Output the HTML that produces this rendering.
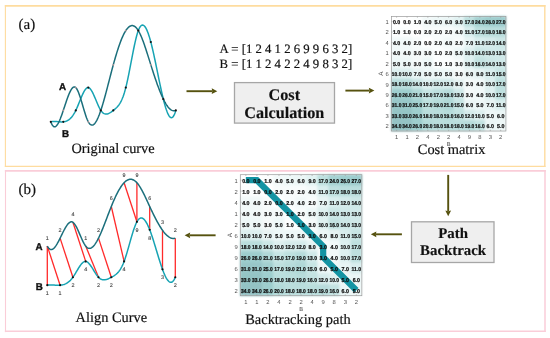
<!DOCTYPE html>
<html><head><meta charset="utf-8"><style>
html,body{margin:0;padding:0;background:#fff;}
body{width:550px;height:338px;overflow:hidden;}
svg{display:block;} text{text-rendering:geometricPrecision;}
</style></head><body>
<svg width="550" height="338" viewBox="0 0 550 338">
<defs><filter id="blura" x="-5%" y="-5%" width="110%" height="110%"><feGaussianBlur stdDeviation="0.9"/></filter><filter id="blurb" x="-5%" y="-5%" width="110%" height="110%"><feGaussianBlur stdDeviation="0.9"/></filter></defs>
<path d="M4.85,5.9H545.5" stroke="#fedc9f" stroke-width="1.6"/><path d="M4.85,166.35H545.5" stroke="#fedc9f" stroke-width="1.4"/><path d="M5.4,5.1V167.05" stroke="#fedc9f" stroke-width="1.1"/><path d="M544.8,5.1V167.05" stroke="#fedc9f" stroke-width="1.4"/>
<path d="M4.85,170.9H545.8" stroke="#facdd8" stroke-width="1.6"/><path d="M4.85,331.3H545.8" stroke="#facdd8" stroke-width="1.6"/><path d="M5.5,170.1V332.1" stroke="#facdd8" stroke-width="1.1"/><path d="M545.0,170.1V332.1" stroke="#facdd8" stroke-width="1.5"/>
<g font-family="Liberation Serif, serif" fill="#111" stroke="#111" stroke-width="0.18">
<text x="18.5" y="28.8" font-size="15">(a)</text>
<text x="18.5" y="193.8" font-size="15">(b)</text>
<text x="71.4" y="152.7" font-size="14.35">Original curve</text>
<text x="417.8" y="154.1" font-size="14.4">Cost matrix</text>
<text x="245.2" y="323.6" font-size="14.45">Backtracking path</text>
<text x="75.6" y="321.8" font-size="14.4">Align Curve</text>
<text x="219.6" y="52.8" font-size="12.75">A = [1 2 4 1 2 6 9 9 6 3 2]</text>
<text x="219.6" y="67.6" font-size="12.75">B = [1 1 2 4 2 2 4 9 8 3 2]</text>
</g>
<rect x="234.5" y="82.6" width="100" height="40.5" fill="#efefef" stroke="#a6a6a6" stroke-width="1.3"/>
<rect x="411.5" y="221.8" width="82.5" height="40.7" fill="#efefef" stroke="#a6a6a6" stroke-width="1.3"/>
<g font-family="Liberation Serif, serif" font-weight="bold" fill="#111" stroke="#111" stroke-width="0.15" text-anchor="middle">
<text x="284.3" y="99.5" font-size="16.2">Cost</text>
<text x="284.3" y="118" font-size="16.2">Calculation</text>
<text x="453.1" y="238.4" font-size="14.85">Path</text>
<text x="453.1" y="255.3" font-size="14.85">Backtrack</text>
</g>
<line x1="186.5" y1="91.2" x2="212.20" y2="91.20" stroke="#56520f" stroke-width="1.9"/><polygon points="217.30,91.20 211.70,94.10 212.26,91.20 211.70,88.30" fill="#56520f"/>
<line x1="345.4" y1="90.6" x2="369.30" y2="90.60" stroke="#56520f" stroke-width="1.9"/><polygon points="374.40,90.60 368.80,93.50 369.36,90.60 368.80,87.70" fill="#56520f"/>
<line x1="448.2" y1="174.9" x2="448.20" y2="211.10" stroke="#56520f" stroke-width="1.9"/><polygon points="448.20,216.20 445.30,210.60 448.20,211.16 451.10,210.60" fill="#56520f"/>
<line x1="401.9" y1="234.3" x2="375.90" y2="234.30" stroke="#56520f" stroke-width="1.9"/><polygon points="370.80,234.30 376.40,231.40 375.84,234.30 376.40,237.20" fill="#56520f"/>
<line x1="215.6" y1="235.3" x2="189.70" y2="235.30" stroke="#56520f" stroke-width="1.9"/><polygon points="184.60,235.30 190.20,232.40 189.64,235.30 190.20,238.20" fill="#56520f"/>
<path d="M50.80,121.80 L51.43,121.67 L52.06,121.58 L52.68,121.51 L53.31,121.47 L53.94,121.46 L54.57,121.46 L55.20,121.48 L55.83,121.52 L56.45,121.56 L57.08,121.61 L57.71,121.67 L58.34,121.72 L58.97,121.78 L59.59,121.82 L60.22,121.86 L60.85,121.89 L61.48,121.90 L62.11,121.88 L62.73,121.85 L63.36,121.79 L63.99,121.70 L64.62,121.58 L65.25,121.43 L65.88,121.23 L66.50,121.00 L67.13,120.71 L67.76,120.38 L68.39,120.00 L69.02,119.56 L69.64,119.06 L70.27,118.50 L70.90,117.88 L71.53,117.18 L72.16,116.42 L72.78,115.58 L73.41,114.66 L74.04,113.66 L74.67,112.58 L75.30,111.40 L75.93,110.14 L76.55,108.79 L77.18,107.36 L77.81,105.87 L78.44,104.35 L79.07,102.79 L79.69,101.23 L80.32,99.68 L80.95,98.15 L81.58,96.66 L82.21,95.23 L82.84,93.87 L83.46,92.60 L84.09,91.43 L84.72,90.39 L85.35,89.49 L85.98,88.74 L86.60,88.17 L87.23,87.78 L87.86,87.60 L88.49,87.64 L89.12,87.90 L89.74,88.37 L90.37,89.03 L91.00,89.85 L91.63,90.83 L92.26,91.95 L92.89,93.17 L93.51,94.49 L94.14,95.88 L94.77,97.33 L95.40,98.82 L96.03,100.33 L96.65,101.83 L97.28,103.32 L97.91,104.77 L98.54,106.16 L99.17,107.47 L99.79,108.69 L100.42,109.80 L101.05,110.77 L101.68,111.60 L102.31,112.30 L102.94,112.88 L103.56,113.33 L104.19,113.67 L104.82,113.90 L105.45,114.04 L106.08,114.08 L106.70,114.04 L107.33,113.93 L107.96,113.74 L108.59,113.50 L109.22,113.20 L109.85,112.85 L110.47,112.46 L111.10,112.04 L111.73,111.59 L112.36,111.12 L112.99,110.64 L113.61,110.16 L114.24,109.67 L114.87,109.16 L115.50,108.63 L116.13,108.07 L116.75,107.46 L117.38,106.79 L118.01,106.06 L118.64,105.25 L119.27,104.36 L119.90,103.37 L120.52,102.28 L121.15,101.07 L121.78,99.74 L122.41,98.27 L123.04,96.66 L123.66,94.89 L124.29,92.96 L124.92,90.86 L125.55,88.57 L126.18,86.09 L126.81,83.42 L127.43,80.60 L128.06,77.63 L128.69,74.56 L129.32,71.40 L129.95,68.17 L130.57,64.90 L131.20,61.61 L131.83,58.33 L132.46,55.08 L133.09,51.88 L133.71,48.77 L134.34,45.75 L134.97,42.86 L135.60,40.12 L136.23,37.55 L136.86,35.18 L137.48,33.03 L138.11,31.12 L138.74,29.48 L139.37,28.11 L140.00,27.01 L140.62,26.16 L141.25,25.55 L141.88,25.20 L142.51,25.07 L143.14,25.17 L143.76,25.50 L144.39,26.03 L145.02,26.77 L145.65,27.71 L146.28,28.85 L146.91,30.16 L147.53,31.66 L148.16,33.32 L148.79,35.15 L149.42,37.13 L150.05,39.26 L150.67,41.53 L151.30,43.93 L151.93,46.46 L152.56,49.10 L153.19,51.84 L153.82,54.66 L154.44,57.55 L155.07,60.51 L155.70,63.51 L156.33,66.55 L156.96,69.61 L157.58,72.68 L158.21,75.75 L158.84,78.80 L159.47,81.83 L160.10,84.82 L160.72,87.76 L161.35,90.63 L161.98,93.43 L162.61,96.14 L163.24,98.75 L163.87,101.24 L164.49,103.60 L165.12,105.83 L165.75,107.91 L166.38,109.82 L167.01,111.56 L167.63,113.11 L168.26,114.45 L168.89,115.59 L169.52,116.49 L170.15,117.16 L170.77,117.58 L171.40,117.74 L172.03,117.61 L172.66,117.21 L173.29,116.50 L173.92,115.47 L174.54,114.12 L175.17,112.44 L175.80,110.40" fill="none" stroke="#16a3b3" stroke-width="1.5"/>
<path d="M50.80,121.80 L51.43,123.39 L52.06,124.65 L52.68,125.61 L53.31,126.28 L53.94,126.68 L54.57,126.82 L55.20,126.71 L55.83,126.38 L56.45,125.83 L57.08,125.09 L57.71,124.16 L58.34,123.07 L58.97,121.83 L59.59,120.45 L60.22,118.95 L60.85,117.35 L61.48,115.66 L62.11,113.90 L62.73,112.08 L63.36,110.21 L63.99,108.32 L64.62,106.42 L65.25,104.52 L65.88,102.64 L66.50,100.79 L67.13,98.99 L67.76,97.26 L68.39,95.61 L69.02,94.06 L69.64,92.61 L70.27,91.30 L70.90,90.13 L71.53,89.11 L72.16,88.27 L72.78,87.62 L73.41,87.17 L74.04,86.94 L74.67,86.95 L75.30,87.20 L75.93,87.73 L76.55,88.52 L77.18,89.56 L77.81,90.83 L78.44,92.29 L79.07,93.92 L79.69,95.71 L80.32,97.61 L80.95,99.62 L81.58,101.69 L82.21,103.82 L82.84,105.96 L83.46,108.11 L84.09,110.22 L84.72,112.29 L85.35,114.27 L85.98,116.15 L86.60,117.90 L87.23,119.50 L87.86,120.92 L88.49,122.14 L89.12,123.14 L89.74,123.93 L90.37,124.51 L91.00,124.90 L91.63,125.09 L92.26,125.10 L92.89,124.93 L93.51,124.59 L94.14,124.08 L94.77,123.42 L95.40,122.61 L96.03,121.65 L96.65,120.55 L97.28,119.33 L97.91,117.98 L98.54,116.52 L99.17,114.95 L99.79,113.28 L100.42,111.51 L101.05,109.65 L101.68,107.71 L102.31,105.69 L102.94,103.60 L103.56,101.45 L104.19,99.25 L104.82,96.99 L105.45,94.69 L106.08,92.35 L106.70,89.98 L107.33,87.59 L107.96,85.18 L108.59,82.75 L109.22,80.32 L109.85,77.89 L110.47,75.46 L111.10,73.05 L111.73,70.66 L112.36,68.29 L112.99,65.95 L113.61,63.66 L114.24,61.40 L114.87,59.19 L115.50,57.03 L116.13,54.92 L116.75,52.86 L117.38,50.86 L118.01,48.91 L118.64,47.03 L119.27,45.20 L119.90,43.45 L120.52,41.76 L121.15,40.14 L121.78,38.59 L122.41,37.12 L123.04,35.73 L123.66,34.42 L124.29,33.19 L124.92,32.05 L125.55,31.00 L126.18,30.03 L126.81,29.16 L127.43,28.38 L128.06,27.70 L128.69,27.11 L129.32,26.62 L129.95,26.22 L130.57,25.92 L131.20,25.72 L131.83,25.62 L132.46,25.62 L133.09,25.72 L133.71,25.93 L134.34,26.23 L134.97,26.65 L135.60,27.16 L136.23,27.78 L136.86,28.51 L137.48,29.35 L138.11,30.30 L138.74,31.35 L139.37,32.51 L140.00,33.77 L140.62,35.12 L141.25,36.56 L141.88,38.08 L142.51,39.68 L143.14,41.34 L143.76,43.07 L144.39,44.85 L145.02,46.68 L145.65,48.56 L146.28,50.47 L146.91,52.42 L147.53,54.39 L148.16,56.38 L148.79,58.38 L149.42,60.39 L150.05,62.40 L150.67,64.40 L151.30,66.39 L151.93,68.37 L152.56,70.33 L153.19,72.27 L153.82,74.19 L154.44,76.09 L155.07,77.96 L155.70,79.80 L156.33,81.61 L156.96,83.38 L157.58,85.13 L158.21,86.83 L158.84,88.50 L159.47,90.12 L160.10,91.70 L160.72,93.24 L161.35,94.73 L161.98,96.16 L162.61,97.54 L163.24,98.87 L163.87,100.14 L164.49,101.35 L165.12,102.50 L165.75,103.58 L166.38,104.60 L167.01,105.55 L167.63,106.43 L168.26,107.24 L168.89,107.97 L169.52,108.62 L170.15,109.19 L170.77,109.69 L171.40,110.09 L172.03,110.41 L172.66,110.65 L173.29,110.79 L173.92,110.84 L174.54,110.79 L175.17,110.64 L175.80,110.40" fill="none" stroke="#1b6f7c" stroke-width="1.5"/>
<circle cx="50.80" cy="121.80" r="0.9" fill="#e8a0a0" opacity="0.7"/>
<circle cx="63.30" cy="110.40" r="0.9" fill="#e8a0a0" opacity="0.7"/>
<circle cx="75.80" cy="87.60" r="0.9" fill="#e8a0a0" opacity="0.7"/>
<circle cx="88.30" cy="121.80" r="0.9" fill="#e8a0a0" opacity="0.7"/>
<circle cx="100.80" cy="110.40" r="0.9" fill="#e8a0a0" opacity="0.7"/>
<circle cx="113.30" cy="64.80" r="0.9" fill="#e8a0a0" opacity="0.7"/>
<circle cx="125.80" cy="30.60" r="0.9" fill="#e8a0a0" opacity="0.7"/>
<circle cx="138.30" cy="30.60" r="0.9" fill="#e8a0a0" opacity="0.7"/>
<circle cx="150.80" cy="64.80" r="0.9" fill="#e8a0a0" opacity="0.7"/>
<circle cx="163.30" cy="99.00" r="0.9" fill="#e8a0a0" opacity="0.7"/>
<circle cx="175.80" cy="110.40" r="0.9" fill="#e8a0a0" opacity="0.7"/>
<circle cx="50.80" cy="121.80" r="1.1" fill="#111"/>
<circle cx="63.30" cy="121.80" r="1.1" fill="#111"/>
<circle cx="75.80" cy="110.40" r="1.1" fill="#111"/>
<circle cx="88.30" cy="87.60" r="1.1" fill="#111"/>
<circle cx="100.80" cy="110.40" r="1.1" fill="#111"/>
<circle cx="113.30" cy="110.40" r="1.1" fill="#111"/>
<circle cx="125.80" cy="87.60" r="1.1" fill="#111"/>
<circle cx="138.30" cy="30.60" r="1.1" fill="#111"/>
<circle cx="150.80" cy="42.00" r="1.1" fill="#111"/>
<circle cx="163.30" cy="99.00" r="1.1" fill="#111"/>
<circle cx="175.80" cy="110.40" r="1.1" fill="#111"/>
<g font-family="Liberation Sans, sans-serif" font-weight="bold" fill="#111" stroke="#111" stroke-width="0.35" font-size="9.8">
<text x="59" y="90.3">A</text>
<text x="62" y="136.8">B</text>
<text x="35.6" y="249.7">A</text>
<text x="35.8" y="290.1">B</text>
</g>
<line x1="47.30" y1="246.08" x2="47.30" y2="285.18" stroke="#ff2a2a" stroke-width="1.3"/>
<line x1="47.30" y1="246.08" x2="60.10" y2="285.18" stroke="#ff2a2a" stroke-width="1.3"/>
<line x1="60.10" y1="238.16" x2="72.90" y2="277.26" stroke="#ff2a2a" stroke-width="1.3"/>
<line x1="72.90" y1="222.32" x2="85.70" y2="261.42" stroke="#ff2a2a" stroke-width="1.3"/>
<line x1="85.70" y1="246.08" x2="98.50" y2="277.26" stroke="#ff2a2a" stroke-width="1.3"/>
<line x1="98.50" y1="238.16" x2="111.30" y2="277.26" stroke="#ff2a2a" stroke-width="1.3"/>
<line x1="111.30" y1="206.48" x2="124.10" y2="261.42" stroke="#ff2a2a" stroke-width="1.3"/>
<line x1="124.10" y1="182.72" x2="136.90" y2="221.82" stroke="#ff2a2a" stroke-width="1.3"/>
<line x1="136.90" y1="182.72" x2="136.90" y2="221.82" stroke="#ff2a2a" stroke-width="1.3"/>
<line x1="149.70" y1="206.48" x2="149.70" y2="229.74" stroke="#ff2a2a" stroke-width="1.3"/>
<line x1="162.50" y1="230.24" x2="162.50" y2="269.34" stroke="#ff2a2a" stroke-width="1.3"/>
<line x1="175.30" y1="238.16" x2="175.30" y2="277.26" stroke="#ff2a2a" stroke-width="1.3"/>
<path d="M47.30,246.08 L47.94,247.18 L48.59,248.06 L49.23,248.73 L49.87,249.19 L50.52,249.47 L51.16,249.56 L51.80,249.49 L52.45,249.26 L53.09,248.88 L53.73,248.36 L54.38,247.72 L55.02,246.96 L55.66,246.10 L56.31,245.14 L56.95,244.10 L57.59,242.99 L58.23,241.82 L58.88,240.59 L59.52,239.32 L60.16,238.03 L60.81,236.72 L61.45,235.39 L62.09,234.07 L62.74,232.77 L63.38,231.48 L64.02,230.23 L64.67,229.03 L65.31,227.88 L65.95,226.81 L66.60,225.80 L67.24,224.89 L67.88,224.07 L68.53,223.37 L69.17,222.78 L69.81,222.33 L70.46,222.02 L71.10,221.86 L71.74,221.87 L72.39,222.04 L73.03,222.41 L73.67,222.96 L74.32,223.68 L74.96,224.56 L75.60,225.58 L76.24,226.71 L76.89,227.95 L77.53,229.28 L78.17,230.67 L78.82,232.11 L79.46,233.59 L80.10,235.08 L80.75,236.57 L81.39,238.04 L82.03,239.47 L82.68,240.85 L83.32,242.16 L83.96,243.37 L84.61,244.48 L85.25,245.47 L85.89,246.32 L86.54,247.01 L87.18,247.56 L87.82,247.97 L88.47,248.23 L89.11,248.37 L89.75,248.37 L90.40,248.25 L91.04,248.02 L91.68,247.66 L92.33,247.20 L92.97,246.64 L93.61,245.97 L94.25,245.21 L94.90,244.36 L95.54,243.43 L96.18,242.41 L96.83,241.32 L97.47,240.16 L98.11,238.93 L98.76,237.64 L99.40,236.29 L100.04,234.89 L100.69,233.44 L101.33,231.94 L101.97,230.41 L102.62,228.84 L103.26,227.25 L103.90,225.62 L104.55,223.98 L105.19,222.31 L105.83,220.64 L106.48,218.95 L107.12,217.26 L107.76,215.57 L108.41,213.89 L109.05,212.21 L109.69,210.55 L110.34,208.90 L110.98,207.28 L111.62,205.69 L112.26,204.12 L112.91,202.58 L113.55,201.08 L114.19,199.62 L114.84,198.19 L115.48,196.79 L116.12,195.44 L116.77,194.13 L117.41,192.87 L118.05,191.65 L118.70,190.47 L119.34,189.35 L119.98,188.27 L120.63,187.25 L121.27,186.29 L121.91,185.37 L122.56,184.52 L123.20,183.73 L123.84,183.00 L124.49,182.33 L125.13,181.72 L125.77,181.18 L126.42,180.70 L127.06,180.30 L127.70,179.95 L128.35,179.68 L128.99,179.47 L129.63,179.33 L130.27,179.26 L130.92,179.26 L131.56,179.33 L132.20,179.47 L132.85,179.69 L133.49,179.97 L134.13,180.33 L134.78,180.76 L135.42,181.27 L136.06,181.85 L136.71,182.51 L137.35,183.24 L137.99,184.05 L138.64,184.92 L139.28,185.86 L139.92,186.86 L140.57,187.92 L141.21,189.03 L141.85,190.18 L142.50,191.38 L143.14,192.62 L143.78,193.89 L144.43,195.20 L145.07,196.53 L145.71,197.88 L146.36,199.25 L147.00,200.63 L147.64,202.02 L148.28,203.41 L148.93,204.81 L149.57,206.20 L150.21,207.59 L150.86,208.96 L151.50,210.32 L152.14,211.67 L152.79,213.00 L153.43,214.32 L154.07,215.62 L154.72,216.90 L155.36,218.16 L156.00,219.39 L156.65,220.60 L157.29,221.79 L157.93,222.95 L158.58,224.07 L159.22,225.17 L159.86,226.24 L160.51,227.27 L161.15,228.27 L161.79,229.23 L162.44,230.15 L163.08,231.03 L163.72,231.87 L164.37,232.67 L165.01,233.42 L165.65,234.13 L166.29,234.79 L166.94,235.40 L167.58,235.96 L168.22,236.47 L168.87,236.92 L169.51,237.32 L170.15,237.66 L170.80,237.95 L171.44,238.17 L172.08,238.33 L172.73,238.43 L173.37,238.46 L174.01,238.43 L174.66,238.33 L175.30,238.16" fill="none" stroke="#1b6f7c" stroke-width="1.5"/>
<path d="M47.30,285.18 L47.94,285.09 L48.59,285.02 L49.23,284.98 L49.87,284.95 L50.52,284.94 L51.16,284.94 L51.80,284.96 L52.45,284.98 L53.09,285.01 L53.73,285.05 L54.38,285.09 L55.02,285.13 L55.66,285.16 L56.31,285.20 L56.95,285.22 L57.59,285.24 L58.23,285.25 L58.88,285.24 L59.52,285.22 L60.16,285.18 L60.81,285.11 L61.45,285.03 L62.09,284.92 L62.74,284.79 L63.38,284.62 L64.02,284.43 L64.67,284.19 L65.31,283.93 L65.95,283.62 L66.60,283.28 L67.24,282.89 L67.88,282.46 L68.53,281.97 L69.17,281.44 L69.81,280.86 L70.46,280.22 L71.10,279.53 L71.74,278.77 L72.39,277.96 L73.03,277.08 L73.67,276.14 L74.32,275.15 L74.96,274.11 L75.60,273.05 L76.24,271.98 L76.89,270.89 L77.53,269.81 L78.17,268.75 L78.82,267.71 L79.46,266.72 L80.10,265.77 L80.75,264.89 L81.39,264.08 L82.03,263.36 L82.68,262.73 L83.32,262.21 L83.96,261.81 L84.61,261.55 L85.25,261.42 L85.89,261.44 L86.54,261.63 L87.18,261.95 L87.82,262.41 L88.47,262.99 L89.11,263.67 L89.75,264.44 L90.40,265.29 L91.04,266.21 L91.68,267.17 L92.33,268.18 L92.97,269.22 L93.61,270.26 L94.25,271.31 L94.90,272.34 L95.54,273.35 L96.18,274.31 L96.83,275.23 L97.47,276.07 L98.11,276.84 L98.76,277.52 L99.40,278.10 L100.04,278.58 L100.69,278.98 L101.33,279.29 L101.97,279.53 L102.62,279.69 L103.26,279.79 L103.90,279.82 L104.55,279.79 L105.19,279.71 L105.83,279.58 L106.48,279.41 L107.12,279.20 L107.76,278.96 L108.41,278.69 L109.05,278.40 L109.69,278.08 L110.34,277.76 L110.98,277.43 L111.62,277.09 L112.26,276.75 L112.91,276.40 L113.55,276.03 L114.19,275.64 L114.84,275.21 L115.48,274.75 L116.12,274.24 L116.77,273.68 L117.41,273.06 L118.05,272.38 L118.70,271.62 L119.34,270.78 L119.98,269.85 L120.63,268.83 L121.27,267.71 L121.91,266.49 L122.56,265.15 L123.20,263.68 L123.84,262.09 L124.49,260.37 L125.13,258.52 L125.77,256.55 L126.42,254.50 L127.06,252.36 L127.70,250.16 L128.35,247.92 L128.99,245.65 L129.63,243.36 L130.27,241.09 L130.92,238.83 L131.56,236.61 L132.20,234.44 L132.85,232.35 L133.49,230.34 L134.13,228.43 L134.78,226.65 L135.42,225.00 L136.06,223.51 L136.71,222.18 L137.35,221.04 L137.99,220.09 L138.64,219.32 L139.28,218.73 L139.92,218.31 L140.57,218.07 L141.21,217.98 L141.85,218.05 L142.50,218.27 L143.14,218.65 L143.78,219.16 L144.43,219.82 L145.07,220.60 L145.71,221.52 L146.36,222.55 L147.00,223.71 L147.64,224.98 L148.28,226.36 L148.93,227.83 L149.57,229.41 L150.21,231.08 L150.86,232.84 L151.50,234.67 L152.14,236.57 L152.79,238.53 L153.43,240.54 L154.07,242.60 L154.72,244.68 L155.36,246.79 L156.00,248.92 L156.65,251.05 L157.29,253.19 L157.93,255.31 L158.58,257.41 L159.22,259.49 L159.86,261.53 L160.51,263.53 L161.15,265.47 L161.79,267.35 L162.44,269.16 L163.08,270.89 L163.72,272.54 L164.37,274.09 L165.01,275.53 L165.65,276.86 L166.29,278.06 L166.94,279.14 L167.58,280.08 L168.22,280.86 L168.87,281.49 L169.51,281.96 L170.15,282.25 L170.80,282.36 L171.44,282.27 L172.08,281.99 L172.73,281.49 L173.37,280.78 L174.01,279.85 L174.66,278.68 L175.30,277.26" fill="none" stroke="#16a3b3" stroke-width="1.5"/>
<circle cx="47.30" cy="285.18" r="1.1" fill="#111"/>
<circle cx="60.10" cy="285.18" r="1.1" fill="#111"/>
<circle cx="72.90" cy="277.26" r="1.1" fill="#111"/>
<circle cx="85.70" cy="261.42" r="1.1" fill="#111"/>
<circle cx="98.50" cy="277.26" r="1.1" fill="#111"/>
<circle cx="111.30" cy="277.26" r="1.1" fill="#111"/>
<circle cx="124.10" cy="261.42" r="1.1" fill="#111"/>
<circle cx="136.90" cy="221.82" r="1.1" fill="#111"/>
<circle cx="149.70" cy="229.74" r="1.1" fill="#111"/>
<circle cx="162.50" cy="269.34" r="1.1" fill="#111"/>
<circle cx="175.30" cy="277.26" r="1.1" fill="#111"/>
<g font-family="Liberation Sans, sans-serif" font-size="5.4" fill="#444" stroke="#444" stroke-width="0.12" text-anchor="middle">
<text x="47.30" y="240.08">1</text>
<text x="47.30" y="295.18">1</text>
<text x="60.10" y="232.16">2</text>
<text x="60.10" y="295.18">1</text>
<text x="72.90" y="216.32">4</text>
<text x="72.90" y="287.26">2</text>
<text x="85.70" y="240.08">1</text>
<text x="85.70" y="271.42">4</text>
<text x="98.50" y="232.16">2</text>
<text x="98.50" y="287.26">2</text>
<text x="111.30" y="200.48">6</text>
<text x="111.30" y="287.26">2</text>
<text x="124.10" y="176.72">9</text>
<text x="124.10" y="271.42">4</text>
<text x="136.90" y="176.72">9</text>
<text x="136.90" y="231.82">9</text>
<text x="149.70" y="200.48">6</text>
<text x="149.70" y="239.74">8</text>
<text x="162.50" y="224.24">3</text>
<text x="162.50" y="279.34">3</text>
<text x="175.30" y="232.16">2</text>
<text x="175.30" y="287.26">2</text>
</g>
<g filter="url(#blura)">
<rect x="391.10" y="16.10" width="11.01" height="11.02" fill="#ffffff"/>
<rect x="401.51" y="16.10" width="11.01" height="11.02" fill="#ffffff"/>
<rect x="411.92" y="16.10" width="11.01" height="11.02" fill="#fcfefe"/>
<rect x="422.33" y="16.10" width="11.01" height="11.02" fill="#f2f9f9"/>
<rect x="432.74" y="16.10" width="11.01" height="11.02" fill="#eef8f8"/>
<rect x="443.15" y="16.10" width="11.01" height="11.02" fill="#ebf6f6"/>
<rect x="453.56" y="16.10" width="11.01" height="11.02" fill="#e1f2f2"/>
<rect x="463.97" y="16.10" width="11.01" height="11.02" fill="#bee0df"/>
<rect x="474.38" y="16.10" width="11.01" height="11.02" fill="#a5d2d2"/>
<rect x="484.79" y="16.10" width="11.01" height="11.02" fill="#9ecece"/>
<rect x="495.20" y="16.10" width="11.01" height="11.02" fill="#9dcccd"/>
<rect x="391.10" y="26.52" width="11.01" height="11.02" fill="#fcfefe"/>
<rect x="401.51" y="26.52" width="11.01" height="11.02" fill="#fcfefe"/>
<rect x="411.92" y="26.52" width="11.01" height="11.02" fill="#ffffff"/>
<rect x="422.33" y="26.52" width="11.01" height="11.02" fill="#f8fcfc"/>
<rect x="432.74" y="26.52" width="11.01" height="11.02" fill="#f8fcfc"/>
<rect x="443.15" y="26.52" width="11.01" height="11.02" fill="#f8fcfc"/>
<rect x="453.56" y="26.52" width="11.01" height="11.02" fill="#f2f9f9"/>
<rect x="463.97" y="26.52" width="11.01" height="11.02" fill="#d9eeee"/>
<rect x="474.38" y="26.52" width="11.01" height="11.02" fill="#bee0df"/>
<rect x="484.79" y="26.52" width="11.01" height="11.02" fill="#badedd"/>
<rect x="495.20" y="26.52" width="11.01" height="11.02" fill="#badedd"/>
<rect x="391.10" y="36.94" width="11.01" height="11.02" fill="#f2f9f9"/>
<rect x="401.51" y="36.94" width="11.01" height="11.02" fill="#f2f9f9"/>
<rect x="411.92" y="36.94" width="11.01" height="11.02" fill="#f8fcfc"/>
<rect x="422.33" y="36.94" width="11.01" height="11.02" fill="#ffffff"/>
<rect x="432.74" y="36.94" width="11.01" height="11.02" fill="#f8fcfc"/>
<rect x="443.15" y="36.94" width="11.01" height="11.02" fill="#f2f9f9"/>
<rect x="453.56" y="36.94" width="11.01" height="11.02" fill="#f8fcfc"/>
<rect x="463.97" y="36.94" width="11.01" height="11.02" fill="#e8f4f4"/>
<rect x="474.38" y="36.94" width="11.01" height="11.02" fill="#d9eeee"/>
<rect x="484.79" y="36.94" width="11.01" height="11.02" fill="#d5ebeb"/>
<rect x="495.20" y="36.94" width="11.01" height="11.02" fill="#cce7e6"/>
<rect x="391.10" y="47.36" width="11.01" height="11.02" fill="#f2f9f9"/>
<rect x="401.51" y="47.36" width="11.01" height="11.02" fill="#f2f9f9"/>
<rect x="411.92" y="47.36" width="11.01" height="11.02" fill="#f5fafa"/>
<rect x="422.33" y="47.36" width="11.01" height="11.02" fill="#f5fafa"/>
<rect x="432.74" y="47.36" width="11.01" height="11.02" fill="#fcfefe"/>
<rect x="443.15" y="47.36" width="11.01" height="11.02" fill="#f8fcfc"/>
<rect x="453.56" y="47.36" width="11.01" height="11.02" fill="#eef8f8"/>
<rect x="463.97" y="47.36" width="11.01" height="11.02" fill="#def0f0"/>
<rect x="474.38" y="47.36" width="11.01" height="11.02" fill="#cce7e6"/>
<rect x="484.79" y="47.36" width="11.01" height="11.02" fill="#d0e9e9"/>
<rect x="495.20" y="47.36" width="11.01" height="11.02" fill="#d0e9e9"/>
<rect x="391.10" y="57.78" width="11.01" height="11.02" fill="#eef8f8"/>
<rect x="401.51" y="57.78" width="11.01" height="11.02" fill="#eef8f8"/>
<rect x="411.92" y="57.78" width="11.01" height="11.02" fill="#f5fafa"/>
<rect x="422.33" y="57.78" width="11.01" height="11.02" fill="#eef8f8"/>
<rect x="432.74" y="57.78" width="11.01" height="11.02" fill="#fcfefe"/>
<rect x="443.15" y="57.78" width="11.01" height="11.02" fill="#fcfefe"/>
<rect x="453.56" y="57.78" width="11.01" height="11.02" fill="#f5fafa"/>
<rect x="463.97" y="57.78" width="11.01" height="11.02" fill="#def0f0"/>
<rect x="474.38" y="57.78" width="11.01" height="11.02" fill="#c3e2e1"/>
<rect x="484.79" y="57.78" width="11.01" height="11.02" fill="#cce7e6"/>
<rect x="495.20" y="57.78" width="11.01" height="11.02" fill="#d0e9e9"/>
<rect x="391.10" y="68.20" width="11.01" height="11.02" fill="#def0f0"/>
<rect x="401.51" y="68.20" width="11.01" height="11.02" fill="#def0f0"/>
<rect x="411.92" y="68.20" width="11.01" height="11.02" fill="#e8f4f4"/>
<rect x="422.33" y="68.20" width="11.01" height="11.02" fill="#eef8f8"/>
<rect x="432.74" y="68.20" width="11.01" height="11.02" fill="#eef8f8"/>
<rect x="443.15" y="68.20" width="11.01" height="11.02" fill="#eef8f8"/>
<rect x="453.56" y="68.20" width="11.01" height="11.02" fill="#f5fafa"/>
<rect x="463.97" y="68.20" width="11.01" height="11.02" fill="#ebf6f6"/>
<rect x="474.38" y="68.20" width="11.01" height="11.02" fill="#e5f3f3"/>
<rect x="484.79" y="68.20" width="11.01" height="11.02" fill="#d9eeee"/>
<rect x="495.20" y="68.20" width="11.01" height="11.02" fill="#c7e5e4"/>
<rect x="391.10" y="78.62" width="11.01" height="11.02" fill="#badedd"/>
<rect x="401.51" y="78.62" width="11.01" height="11.02" fill="#badedd"/>
<rect x="411.92" y="78.62" width="11.01" height="11.02" fill="#cce7e6"/>
<rect x="422.33" y="78.62" width="11.01" height="11.02" fill="#def0f0"/>
<rect x="432.74" y="78.62" width="11.01" height="11.02" fill="#d5ebeb"/>
<rect x="443.15" y="78.62" width="11.01" height="11.02" fill="#d5ebeb"/>
<rect x="453.56" y="78.62" width="11.01" height="11.02" fill="#e5f3f3"/>
<rect x="463.97" y="78.62" width="11.01" height="11.02" fill="#f5fafa"/>
<rect x="474.38" y="78.62" width="11.01" height="11.02" fill="#f2f9f9"/>
<rect x="484.79" y="78.62" width="11.01" height="11.02" fill="#def0f0"/>
<rect x="495.20" y="78.62" width="11.01" height="11.02" fill="#bee0df"/>
<rect x="391.10" y="89.04" width="11.01" height="11.02" fill="#9ecece"/>
<rect x="401.51" y="89.04" width="11.01" height="11.02" fill="#9ecece"/>
<rect x="411.92" y="89.04" width="11.01" height="11.02" fill="#b0d8d7"/>
<rect x="422.33" y="89.04" width="11.01" height="11.02" fill="#c7e5e4"/>
<rect x="432.74" y="89.04" width="11.01" height="11.02" fill="#bee0df"/>
<rect x="443.15" y="89.04" width="11.01" height="11.02" fill="#b7dcdb"/>
<rect x="453.56" y="89.04" width="11.01" height="11.02" fill="#d0e9e9"/>
<rect x="463.97" y="89.04" width="11.01" height="11.02" fill="#f5fafa"/>
<rect x="474.38" y="89.04" width="11.01" height="11.02" fill="#f2f9f9"/>
<rect x="484.79" y="89.04" width="11.01" height="11.02" fill="#def0f0"/>
<rect x="495.20" y="89.04" width="11.01" height="11.02" fill="#bee0df"/>
<rect x="391.10" y="99.46" width="11.01" height="11.02" fill="#98c6c8"/>
<rect x="401.51" y="99.46" width="11.01" height="11.02" fill="#98c6c8"/>
<rect x="411.92" y="99.46" width="11.01" height="11.02" fill="#a2d0d0"/>
<rect x="422.33" y="99.46" width="11.01" height="11.02" fill="#bee0df"/>
<rect x="432.74" y="99.46" width="11.01" height="11.02" fill="#b7dcdb"/>
<rect x="443.15" y="99.46" width="11.01" height="11.02" fill="#b0d8d7"/>
<rect x="453.56" y="99.46" width="11.01" height="11.02" fill="#c7e5e4"/>
<rect x="463.97" y="99.46" width="11.01" height="11.02" fill="#ebf6f6"/>
<rect x="474.38" y="99.46" width="11.01" height="11.02" fill="#eef8f8"/>
<rect x="484.79" y="99.46" width="11.01" height="11.02" fill="#e8f4f4"/>
<rect x="495.20" y="99.46" width="11.01" height="11.02" fill="#d9eeee"/>
<rect x="391.10" y="109.88" width="11.01" height="11.02" fill="#95c4c5"/>
<rect x="401.51" y="109.88" width="11.01" height="11.02" fill="#95c4c5"/>
<rect x="411.92" y="109.88" width="11.01" height="11.02" fill="#9ecece"/>
<rect x="422.33" y="109.88" width="11.01" height="11.02" fill="#badedd"/>
<rect x="432.74" y="109.88" width="11.01" height="11.02" fill="#badedd"/>
<rect x="443.15" y="109.88" width="11.01" height="11.02" fill="#b7dcdb"/>
<rect x="453.56" y="109.88" width="11.01" height="11.02" fill="#c3e2e1"/>
<rect x="463.97" y="109.88" width="11.01" height="11.02" fill="#d5ebeb"/>
<rect x="474.38" y="109.88" width="11.01" height="11.02" fill="#def0f0"/>
<rect x="484.79" y="109.88" width="11.01" height="11.02" fill="#eef8f8"/>
<rect x="495.20" y="109.88" width="11.01" height="11.02" fill="#ebf6f6"/>
<rect x="391.10" y="120.30" width="11.01" height="11.02" fill="#94c2c4"/>
<rect x="401.51" y="120.30" width="11.01" height="11.02" fill="#94c2c4"/>
<rect x="411.92" y="120.30" width="11.01" height="11.02" fill="#9ecece"/>
<rect x="422.33" y="120.30" width="11.01" height="11.02" fill="#b3dad9"/>
<rect x="432.74" y="120.30" width="11.01" height="11.02" fill="#badedd"/>
<rect x="443.15" y="120.30" width="11.01" height="11.02" fill="#badedd"/>
<rect x="453.56" y="120.30" width="11.01" height="11.02" fill="#badedd"/>
<rect x="463.97" y="120.30" width="11.01" height="11.02" fill="#b7dcdb"/>
<rect x="474.38" y="120.30" width="11.01" height="11.02" fill="#c3e2e1"/>
<rect x="484.79" y="120.30" width="11.01" height="11.02" fill="#ebf6f6"/>
<rect x="495.20" y="120.30" width="11.01" height="11.02" fill="#eef8f8"/>
</g>
<rect x="391.40" y="16.40" width="114.51" height="114.62" fill="none" stroke="#9a9a9a" stroke-width="0.7"/>
<path d="M396.60,16.40v1.3M396.60,131.02v-1.3M407.01,16.40v1.3M407.01,131.02v-1.3M417.42,16.40v1.3M417.42,131.02v-1.3M427.83,16.40v1.3M427.83,131.02v-1.3M438.25,16.40v1.3M438.25,131.02v-1.3M448.65,16.40v1.3M448.65,131.02v-1.3M459.06,16.40v1.3M459.06,131.02v-1.3M469.47,16.40v1.3M469.47,131.02v-1.3M479.88,16.40v1.3M479.88,131.02v-1.3M490.29,16.40v1.3M490.29,131.02v-1.3M500.70,16.40v1.3M500.70,131.02v-1.3M391.40,21.61h1.3M391.40,32.03h1.3M391.40,42.45h1.3M391.40,52.87h1.3M391.40,63.29h1.3M391.40,73.71h1.3M391.40,84.13h1.3M391.40,94.55h1.3M391.40,104.97h1.3M391.40,115.39h1.3M391.40,125.81h1.3" stroke="#9a9a9a" stroke-width="0.6" fill="none"/>
<g font-family="Liberation Sans, sans-serif" font-weight="bold" font-size="5.5" fill="#111" stroke="#111" stroke-width="0.24" text-anchor="middle">
<text x="396.60" y="23.89" textLength="7.40" lengthAdjust="spacingAndGlyphs">0.0</text>
<text x="407.01" y="23.89" textLength="7.40" lengthAdjust="spacingAndGlyphs">0.0</text>
<text x="417.42" y="23.89" textLength="7.40" lengthAdjust="spacingAndGlyphs">1.0</text>
<text x="427.83" y="23.89" textLength="7.40" lengthAdjust="spacingAndGlyphs">4.0</text>
<text x="438.25" y="23.89" textLength="7.40" lengthAdjust="spacingAndGlyphs">5.0</text>
<text x="448.65" y="23.89" textLength="7.40" lengthAdjust="spacingAndGlyphs">6.0</text>
<text x="459.06" y="23.89" textLength="7.40" lengthAdjust="spacingAndGlyphs">9.0</text>
<text x="469.47" y="23.89" textLength="9.60" lengthAdjust="spacingAndGlyphs">17.0</text>
<text x="479.88" y="23.89" textLength="9.60" lengthAdjust="spacingAndGlyphs">24.0</text>
<text x="490.29" y="23.89" textLength="9.60" lengthAdjust="spacingAndGlyphs">26.0</text>
<text x="500.70" y="23.89" textLength="9.60" lengthAdjust="spacingAndGlyphs">27.0</text>
<text x="396.60" y="34.31" textLength="7.40" lengthAdjust="spacingAndGlyphs">1.0</text>
<text x="407.01" y="34.31" textLength="7.40" lengthAdjust="spacingAndGlyphs">1.0</text>
<text x="417.42" y="34.31" textLength="7.40" lengthAdjust="spacingAndGlyphs">0.0</text>
<text x="427.83" y="34.31" textLength="7.40" lengthAdjust="spacingAndGlyphs">2.0</text>
<text x="438.25" y="34.31" textLength="7.40" lengthAdjust="spacingAndGlyphs">2.0</text>
<text x="448.65" y="34.31" textLength="7.40" lengthAdjust="spacingAndGlyphs">2.0</text>
<text x="459.06" y="34.31" textLength="7.40" lengthAdjust="spacingAndGlyphs">4.0</text>
<text x="469.47" y="34.31" textLength="9.60" lengthAdjust="spacingAndGlyphs">11.0</text>
<text x="479.88" y="34.31" textLength="9.60" lengthAdjust="spacingAndGlyphs">17.0</text>
<text x="490.29" y="34.31" textLength="9.60" lengthAdjust="spacingAndGlyphs">18.0</text>
<text x="500.70" y="34.31" textLength="9.60" lengthAdjust="spacingAndGlyphs">18.0</text>
<text x="396.60" y="44.73" textLength="7.40" lengthAdjust="spacingAndGlyphs">4.0</text>
<text x="407.01" y="44.73" textLength="7.40" lengthAdjust="spacingAndGlyphs">4.0</text>
<text x="417.42" y="44.73" textLength="7.40" lengthAdjust="spacingAndGlyphs">2.0</text>
<text x="427.83" y="44.73" textLength="7.40" lengthAdjust="spacingAndGlyphs">0.0</text>
<text x="438.25" y="44.73" textLength="7.40" lengthAdjust="spacingAndGlyphs">2.0</text>
<text x="448.65" y="44.73" textLength="7.40" lengthAdjust="spacingAndGlyphs">4.0</text>
<text x="459.06" y="44.73" textLength="7.40" lengthAdjust="spacingAndGlyphs">2.0</text>
<text x="469.47" y="44.73" textLength="7.40" lengthAdjust="spacingAndGlyphs">7.0</text>
<text x="479.88" y="44.73" textLength="9.60" lengthAdjust="spacingAndGlyphs">11.0</text>
<text x="490.29" y="44.73" textLength="9.60" lengthAdjust="spacingAndGlyphs">12.0</text>
<text x="500.70" y="44.73" textLength="9.60" lengthAdjust="spacingAndGlyphs">14.0</text>
<text x="396.60" y="55.15" textLength="7.40" lengthAdjust="spacingAndGlyphs">4.0</text>
<text x="407.01" y="55.15" textLength="7.40" lengthAdjust="spacingAndGlyphs">4.0</text>
<text x="417.42" y="55.15" textLength="7.40" lengthAdjust="spacingAndGlyphs">3.0</text>
<text x="427.83" y="55.15" textLength="7.40" lengthAdjust="spacingAndGlyphs">3.0</text>
<text x="438.25" y="55.15" textLength="7.40" lengthAdjust="spacingAndGlyphs">1.0</text>
<text x="448.65" y="55.15" textLength="7.40" lengthAdjust="spacingAndGlyphs">2.0</text>
<text x="459.06" y="55.15" textLength="7.40" lengthAdjust="spacingAndGlyphs">5.0</text>
<text x="469.47" y="55.15" textLength="9.60" lengthAdjust="spacingAndGlyphs">10.0</text>
<text x="479.88" y="55.15" textLength="9.60" lengthAdjust="spacingAndGlyphs">14.0</text>
<text x="490.29" y="55.15" textLength="9.60" lengthAdjust="spacingAndGlyphs">13.0</text>
<text x="500.70" y="55.15" textLength="9.60" lengthAdjust="spacingAndGlyphs">13.0</text>
<text x="396.60" y="65.57" textLength="7.40" lengthAdjust="spacingAndGlyphs">5.0</text>
<text x="407.01" y="65.57" textLength="7.40" lengthAdjust="spacingAndGlyphs">5.0</text>
<text x="417.42" y="65.57" textLength="7.40" lengthAdjust="spacingAndGlyphs">3.0</text>
<text x="427.83" y="65.57" textLength="7.40" lengthAdjust="spacingAndGlyphs">5.0</text>
<text x="438.25" y="65.57" textLength="7.40" lengthAdjust="spacingAndGlyphs">1.0</text>
<text x="448.65" y="65.57" textLength="7.40" lengthAdjust="spacingAndGlyphs">1.0</text>
<text x="459.06" y="65.57" textLength="7.40" lengthAdjust="spacingAndGlyphs">3.0</text>
<text x="469.47" y="65.57" textLength="9.60" lengthAdjust="spacingAndGlyphs">10.0</text>
<text x="479.88" y="65.57" textLength="9.60" lengthAdjust="spacingAndGlyphs">16.0</text>
<text x="490.29" y="65.57" textLength="9.60" lengthAdjust="spacingAndGlyphs">14.0</text>
<text x="500.70" y="65.57" textLength="9.60" lengthAdjust="spacingAndGlyphs">13.0</text>
<text x="396.60" y="75.99" textLength="9.60" lengthAdjust="spacingAndGlyphs">10.0</text>
<text x="407.01" y="75.99" textLength="9.60" lengthAdjust="spacingAndGlyphs">10.0</text>
<text x="417.42" y="75.99" textLength="7.40" lengthAdjust="spacingAndGlyphs">7.0</text>
<text x="427.83" y="75.99" textLength="7.40" lengthAdjust="spacingAndGlyphs">5.0</text>
<text x="438.25" y="75.99" textLength="7.40" lengthAdjust="spacingAndGlyphs">5.0</text>
<text x="448.65" y="75.99" textLength="7.40" lengthAdjust="spacingAndGlyphs">5.0</text>
<text x="459.06" y="75.99" textLength="7.40" lengthAdjust="spacingAndGlyphs">3.0</text>
<text x="469.47" y="75.99" textLength="7.40" lengthAdjust="spacingAndGlyphs">6.0</text>
<text x="479.88" y="75.99" textLength="7.40" lengthAdjust="spacingAndGlyphs">8.0</text>
<text x="490.29" y="75.99" textLength="9.60" lengthAdjust="spacingAndGlyphs">11.0</text>
<text x="500.70" y="75.99" textLength="9.60" lengthAdjust="spacingAndGlyphs">15.0</text>
<text x="396.60" y="86.41" textLength="9.60" lengthAdjust="spacingAndGlyphs">18.0</text>
<text x="407.01" y="86.41" textLength="9.60" lengthAdjust="spacingAndGlyphs">18.0</text>
<text x="417.42" y="86.41" textLength="9.60" lengthAdjust="spacingAndGlyphs">14.0</text>
<text x="427.83" y="86.41" textLength="9.60" lengthAdjust="spacingAndGlyphs">10.0</text>
<text x="438.25" y="86.41" textLength="9.60" lengthAdjust="spacingAndGlyphs">12.0</text>
<text x="448.65" y="86.41" textLength="9.60" lengthAdjust="spacingAndGlyphs">12.0</text>
<text x="459.06" y="86.41" textLength="7.40" lengthAdjust="spacingAndGlyphs">8.0</text>
<text x="469.47" y="86.41" textLength="7.40" lengthAdjust="spacingAndGlyphs">3.0</text>
<text x="479.88" y="86.41" textLength="7.40" lengthAdjust="spacingAndGlyphs">4.0</text>
<text x="490.29" y="86.41" textLength="9.60" lengthAdjust="spacingAndGlyphs">10.0</text>
<text x="500.70" y="86.41" textLength="9.60" lengthAdjust="spacingAndGlyphs">17.0</text>
<text x="396.60" y="96.83" textLength="9.60" lengthAdjust="spacingAndGlyphs">26.0</text>
<text x="407.01" y="96.83" textLength="9.60" lengthAdjust="spacingAndGlyphs">26.0</text>
<text x="417.42" y="96.83" textLength="9.60" lengthAdjust="spacingAndGlyphs">21.0</text>
<text x="427.83" y="96.83" textLength="9.60" lengthAdjust="spacingAndGlyphs">15.0</text>
<text x="438.25" y="96.83" textLength="9.60" lengthAdjust="spacingAndGlyphs">17.0</text>
<text x="448.65" y="96.83" textLength="9.60" lengthAdjust="spacingAndGlyphs">19.0</text>
<text x="459.06" y="96.83" textLength="9.60" lengthAdjust="spacingAndGlyphs">13.0</text>
<text x="469.47" y="96.83" textLength="7.40" lengthAdjust="spacingAndGlyphs">3.0</text>
<text x="479.88" y="96.83" textLength="7.40" lengthAdjust="spacingAndGlyphs">4.0</text>
<text x="490.29" y="96.83" textLength="9.60" lengthAdjust="spacingAndGlyphs">10.0</text>
<text x="500.70" y="96.83" textLength="9.60" lengthAdjust="spacingAndGlyphs">17.0</text>
<text x="396.60" y="107.25" textLength="9.60" lengthAdjust="spacingAndGlyphs">31.0</text>
<text x="407.01" y="107.25" textLength="9.60" lengthAdjust="spacingAndGlyphs">31.0</text>
<text x="417.42" y="107.25" textLength="9.60" lengthAdjust="spacingAndGlyphs">25.0</text>
<text x="427.83" y="107.25" textLength="9.60" lengthAdjust="spacingAndGlyphs">17.0</text>
<text x="438.25" y="107.25" textLength="9.60" lengthAdjust="spacingAndGlyphs">19.0</text>
<text x="448.65" y="107.25" textLength="9.60" lengthAdjust="spacingAndGlyphs">21.0</text>
<text x="459.06" y="107.25" textLength="9.60" lengthAdjust="spacingAndGlyphs">15.0</text>
<text x="469.47" y="107.25" textLength="7.40" lengthAdjust="spacingAndGlyphs">6.0</text>
<text x="479.88" y="107.25" textLength="7.40" lengthAdjust="spacingAndGlyphs">5.0</text>
<text x="490.29" y="107.25" textLength="7.40" lengthAdjust="spacingAndGlyphs">7.0</text>
<text x="500.70" y="107.25" textLength="9.60" lengthAdjust="spacingAndGlyphs">11.0</text>
<text x="396.60" y="117.67" textLength="9.60" lengthAdjust="spacingAndGlyphs">33.0</text>
<text x="407.01" y="117.67" textLength="9.60" lengthAdjust="spacingAndGlyphs">33.0</text>
<text x="417.42" y="117.67" textLength="9.60" lengthAdjust="spacingAndGlyphs">26.0</text>
<text x="427.83" y="117.67" textLength="9.60" lengthAdjust="spacingAndGlyphs">18.0</text>
<text x="438.25" y="117.67" textLength="9.60" lengthAdjust="spacingAndGlyphs">18.0</text>
<text x="448.65" y="117.67" textLength="9.60" lengthAdjust="spacingAndGlyphs">19.0</text>
<text x="459.06" y="117.67" textLength="9.60" lengthAdjust="spacingAndGlyphs">16.0</text>
<text x="469.47" y="117.67" textLength="9.60" lengthAdjust="spacingAndGlyphs">12.0</text>
<text x="479.88" y="117.67" textLength="9.60" lengthAdjust="spacingAndGlyphs">10.0</text>
<text x="490.29" y="117.67" textLength="7.40" lengthAdjust="spacingAndGlyphs">5.0</text>
<text x="500.70" y="117.67" textLength="7.40" lengthAdjust="spacingAndGlyphs">6.0</text>
<text x="396.60" y="128.09" textLength="9.60" lengthAdjust="spacingAndGlyphs">34.0</text>
<text x="407.01" y="128.09" textLength="9.60" lengthAdjust="spacingAndGlyphs">34.0</text>
<text x="417.42" y="128.09" textLength="9.60" lengthAdjust="spacingAndGlyphs">26.0</text>
<text x="427.83" y="128.09" textLength="9.60" lengthAdjust="spacingAndGlyphs">20.0</text>
<text x="438.25" y="128.09" textLength="9.60" lengthAdjust="spacingAndGlyphs">18.0</text>
<text x="448.65" y="128.09" textLength="9.60" lengthAdjust="spacingAndGlyphs">18.0</text>
<text x="459.06" y="128.09" textLength="9.60" lengthAdjust="spacingAndGlyphs">18.0</text>
<text x="469.47" y="128.09" textLength="9.60" lengthAdjust="spacingAndGlyphs">19.0</text>
<text x="479.88" y="128.09" textLength="9.60" lengthAdjust="spacingAndGlyphs">16.0</text>
<text x="490.29" y="128.09" textLength="7.40" lengthAdjust="spacingAndGlyphs">6.0</text>
<text x="500.70" y="128.09" textLength="7.40" lengthAdjust="spacingAndGlyphs">5.0</text>
</g>
<g font-family="Liberation Sans, sans-serif" font-size="5.8" fill="#505050" text-anchor="middle">
<text x="387.10" y="24.00">1</text>
<text x="387.10" y="34.42">2</text>
<text x="387.10" y="44.84">4</text>
<text x="387.10" y="55.26">1</text>
<text x="387.10" y="65.68">2</text>
<text x="387.10" y="76.10">6</text>
<text x="387.10" y="86.52">9</text>
<text x="387.10" y="96.94">9</text>
<text x="387.10" y="107.36">6</text>
<text x="387.10" y="117.78">3</text>
<text x="387.10" y="128.20">2</text>
<text x="396.60" y="139.41">1</text>
<text x="407.01" y="139.41">1</text>
<text x="417.42" y="139.41">2</text>
<text x="427.83" y="139.41">4</text>
<text x="438.25" y="139.41">2</text>
<text x="448.65" y="139.41">2</text>
<text x="459.06" y="139.41">4</text>
<text x="469.47" y="139.41">9</text>
<text x="479.88" y="139.41">8</text>
<text x="490.29" y="139.41">3</text>
<text x="500.70" y="139.41">2</text>
<text x="448.65" y="146.41" font-size="5.8">B</text>
<text x="381.20" y="73.71" transform="rotate(-90 381.20 73.71)" dy="2.09" font-size="6.38">A</text>
</g>
<g filter="url(#blurb)">
<rect x="240.00" y="174.40" width="11.65" height="11.60" fill="#ffffff"/>
<rect x="251.05" y="174.40" width="11.65" height="11.60" fill="#ffffff"/>
<rect x="262.10" y="174.40" width="11.65" height="11.60" fill="#fcfefe"/>
<rect x="273.15" y="174.40" width="11.65" height="11.60" fill="#f2f9f9"/>
<rect x="284.20" y="174.40" width="11.65" height="11.60" fill="#eef8f8"/>
<rect x="295.25" y="174.40" width="11.65" height="11.60" fill="#ebf6f6"/>
<rect x="306.30" y="174.40" width="11.65" height="11.60" fill="#e1f2f2"/>
<rect x="317.35" y="174.40" width="11.65" height="11.60" fill="#bee0df"/>
<rect x="328.40" y="174.40" width="11.65" height="11.60" fill="#a5d2d2"/>
<rect x="339.45" y="174.40" width="11.65" height="11.60" fill="#9ecece"/>
<rect x="350.50" y="174.40" width="11.65" height="11.60" fill="#9dcccd"/>
<rect x="240.00" y="185.40" width="11.65" height="11.60" fill="#fcfefe"/>
<rect x="251.05" y="185.40" width="11.65" height="11.60" fill="#fcfefe"/>
<rect x="262.10" y="185.40" width="11.65" height="11.60" fill="#ffffff"/>
<rect x="273.15" y="185.40" width="11.65" height="11.60" fill="#f8fcfc"/>
<rect x="284.20" y="185.40" width="11.65" height="11.60" fill="#f8fcfc"/>
<rect x="295.25" y="185.40" width="11.65" height="11.60" fill="#f8fcfc"/>
<rect x="306.30" y="185.40" width="11.65" height="11.60" fill="#f2f9f9"/>
<rect x="317.35" y="185.40" width="11.65" height="11.60" fill="#d9eeee"/>
<rect x="328.40" y="185.40" width="11.65" height="11.60" fill="#bee0df"/>
<rect x="339.45" y="185.40" width="11.65" height="11.60" fill="#badedd"/>
<rect x="350.50" y="185.40" width="11.65" height="11.60" fill="#badedd"/>
<rect x="240.00" y="196.40" width="11.65" height="11.60" fill="#f2f9f9"/>
<rect x="251.05" y="196.40" width="11.65" height="11.60" fill="#f2f9f9"/>
<rect x="262.10" y="196.40" width="11.65" height="11.60" fill="#f8fcfc"/>
<rect x="273.15" y="196.40" width="11.65" height="11.60" fill="#ffffff"/>
<rect x="284.20" y="196.40" width="11.65" height="11.60" fill="#f8fcfc"/>
<rect x="295.25" y="196.40" width="11.65" height="11.60" fill="#f2f9f9"/>
<rect x="306.30" y="196.40" width="11.65" height="11.60" fill="#f8fcfc"/>
<rect x="317.35" y="196.40" width="11.65" height="11.60" fill="#e8f4f4"/>
<rect x="328.40" y="196.40" width="11.65" height="11.60" fill="#d9eeee"/>
<rect x="339.45" y="196.40" width="11.65" height="11.60" fill="#d5ebeb"/>
<rect x="350.50" y="196.40" width="11.65" height="11.60" fill="#cce7e6"/>
<rect x="240.00" y="207.40" width="11.65" height="11.60" fill="#f2f9f9"/>
<rect x="251.05" y="207.40" width="11.65" height="11.60" fill="#f2f9f9"/>
<rect x="262.10" y="207.40" width="11.65" height="11.60" fill="#f5fafa"/>
<rect x="273.15" y="207.40" width="11.65" height="11.60" fill="#f5fafa"/>
<rect x="284.20" y="207.40" width="11.65" height="11.60" fill="#fcfefe"/>
<rect x="295.25" y="207.40" width="11.65" height="11.60" fill="#f8fcfc"/>
<rect x="306.30" y="207.40" width="11.65" height="11.60" fill="#eef8f8"/>
<rect x="317.35" y="207.40" width="11.65" height="11.60" fill="#def0f0"/>
<rect x="328.40" y="207.40" width="11.65" height="11.60" fill="#cce7e6"/>
<rect x="339.45" y="207.40" width="11.65" height="11.60" fill="#d0e9e9"/>
<rect x="350.50" y="207.40" width="11.65" height="11.60" fill="#d0e9e9"/>
<rect x="240.00" y="218.40" width="11.65" height="11.60" fill="#eef8f8"/>
<rect x="251.05" y="218.40" width="11.65" height="11.60" fill="#eef8f8"/>
<rect x="262.10" y="218.40" width="11.65" height="11.60" fill="#f5fafa"/>
<rect x="273.15" y="218.40" width="11.65" height="11.60" fill="#eef8f8"/>
<rect x="284.20" y="218.40" width="11.65" height="11.60" fill="#fcfefe"/>
<rect x="295.25" y="218.40" width="11.65" height="11.60" fill="#fcfefe"/>
<rect x="306.30" y="218.40" width="11.65" height="11.60" fill="#f5fafa"/>
<rect x="317.35" y="218.40" width="11.65" height="11.60" fill="#def0f0"/>
<rect x="328.40" y="218.40" width="11.65" height="11.60" fill="#c3e2e1"/>
<rect x="339.45" y="218.40" width="11.65" height="11.60" fill="#cce7e6"/>
<rect x="350.50" y="218.40" width="11.65" height="11.60" fill="#d0e9e9"/>
<rect x="240.00" y="229.40" width="11.65" height="11.60" fill="#def0f0"/>
<rect x="251.05" y="229.40" width="11.65" height="11.60" fill="#def0f0"/>
<rect x="262.10" y="229.40" width="11.65" height="11.60" fill="#e8f4f4"/>
<rect x="273.15" y="229.40" width="11.65" height="11.60" fill="#eef8f8"/>
<rect x="284.20" y="229.40" width="11.65" height="11.60" fill="#eef8f8"/>
<rect x="295.25" y="229.40" width="11.65" height="11.60" fill="#eef8f8"/>
<rect x="306.30" y="229.40" width="11.65" height="11.60" fill="#f5fafa"/>
<rect x="317.35" y="229.40" width="11.65" height="11.60" fill="#ebf6f6"/>
<rect x="328.40" y="229.40" width="11.65" height="11.60" fill="#e5f3f3"/>
<rect x="339.45" y="229.40" width="11.65" height="11.60" fill="#d9eeee"/>
<rect x="350.50" y="229.40" width="11.65" height="11.60" fill="#c7e5e4"/>
<rect x="240.00" y="240.40" width="11.65" height="11.60" fill="#badedd"/>
<rect x="251.05" y="240.40" width="11.65" height="11.60" fill="#badedd"/>
<rect x="262.10" y="240.40" width="11.65" height="11.60" fill="#cce7e6"/>
<rect x="273.15" y="240.40" width="11.65" height="11.60" fill="#def0f0"/>
<rect x="284.20" y="240.40" width="11.65" height="11.60" fill="#d5ebeb"/>
<rect x="295.25" y="240.40" width="11.65" height="11.60" fill="#d5ebeb"/>
<rect x="306.30" y="240.40" width="11.65" height="11.60" fill="#e5f3f3"/>
<rect x="317.35" y="240.40" width="11.65" height="11.60" fill="#f5fafa"/>
<rect x="328.40" y="240.40" width="11.65" height="11.60" fill="#f2f9f9"/>
<rect x="339.45" y="240.40" width="11.65" height="11.60" fill="#def0f0"/>
<rect x="350.50" y="240.40" width="11.65" height="11.60" fill="#bee0df"/>
<rect x="240.00" y="251.40" width="11.65" height="11.60" fill="#9ecece"/>
<rect x="251.05" y="251.40" width="11.65" height="11.60" fill="#9ecece"/>
<rect x="262.10" y="251.40" width="11.65" height="11.60" fill="#b0d8d7"/>
<rect x="273.15" y="251.40" width="11.65" height="11.60" fill="#c7e5e4"/>
<rect x="284.20" y="251.40" width="11.65" height="11.60" fill="#bee0df"/>
<rect x="295.25" y="251.40" width="11.65" height="11.60" fill="#b7dcdb"/>
<rect x="306.30" y="251.40" width="11.65" height="11.60" fill="#d0e9e9"/>
<rect x="317.35" y="251.40" width="11.65" height="11.60" fill="#f5fafa"/>
<rect x="328.40" y="251.40" width="11.65" height="11.60" fill="#f2f9f9"/>
<rect x="339.45" y="251.40" width="11.65" height="11.60" fill="#def0f0"/>
<rect x="350.50" y="251.40" width="11.65" height="11.60" fill="#bee0df"/>
<rect x="240.00" y="262.40" width="11.65" height="11.60" fill="#98c6c8"/>
<rect x="251.05" y="262.40" width="11.65" height="11.60" fill="#98c6c8"/>
<rect x="262.10" y="262.40" width="11.65" height="11.60" fill="#a2d0d0"/>
<rect x="273.15" y="262.40" width="11.65" height="11.60" fill="#bee0df"/>
<rect x="284.20" y="262.40" width="11.65" height="11.60" fill="#b7dcdb"/>
<rect x="295.25" y="262.40" width="11.65" height="11.60" fill="#b0d8d7"/>
<rect x="306.30" y="262.40" width="11.65" height="11.60" fill="#c7e5e4"/>
<rect x="317.35" y="262.40" width="11.65" height="11.60" fill="#ebf6f6"/>
<rect x="328.40" y="262.40" width="11.65" height="11.60" fill="#eef8f8"/>
<rect x="339.45" y="262.40" width="11.65" height="11.60" fill="#e8f4f4"/>
<rect x="350.50" y="262.40" width="11.65" height="11.60" fill="#d9eeee"/>
<rect x="240.00" y="273.40" width="11.65" height="11.60" fill="#95c4c5"/>
<rect x="251.05" y="273.40" width="11.65" height="11.60" fill="#95c4c5"/>
<rect x="262.10" y="273.40" width="11.65" height="11.60" fill="#9ecece"/>
<rect x="273.15" y="273.40" width="11.65" height="11.60" fill="#badedd"/>
<rect x="284.20" y="273.40" width="11.65" height="11.60" fill="#badedd"/>
<rect x="295.25" y="273.40" width="11.65" height="11.60" fill="#b7dcdb"/>
<rect x="306.30" y="273.40" width="11.65" height="11.60" fill="#c3e2e1"/>
<rect x="317.35" y="273.40" width="11.65" height="11.60" fill="#d5ebeb"/>
<rect x="328.40" y="273.40" width="11.65" height="11.60" fill="#def0f0"/>
<rect x="339.45" y="273.40" width="11.65" height="11.60" fill="#eef8f8"/>
<rect x="350.50" y="273.40" width="11.65" height="11.60" fill="#ebf6f6"/>
<rect x="240.00" y="284.40" width="11.65" height="11.60" fill="#94c2c4"/>
<rect x="251.05" y="284.40" width="11.65" height="11.60" fill="#94c2c4"/>
<rect x="262.10" y="284.40" width="11.65" height="11.60" fill="#9ecece"/>
<rect x="273.15" y="284.40" width="11.65" height="11.60" fill="#b3dad9"/>
<rect x="284.20" y="284.40" width="11.65" height="11.60" fill="#badedd"/>
<rect x="295.25" y="284.40" width="11.65" height="11.60" fill="#badedd"/>
<rect x="306.30" y="284.40" width="11.65" height="11.60" fill="#badedd"/>
<rect x="317.35" y="284.40" width="11.65" height="11.60" fill="#b7dcdb"/>
<rect x="328.40" y="284.40" width="11.65" height="11.60" fill="#c3e2e1"/>
<rect x="339.45" y="284.40" width="11.65" height="11.60" fill="#ebf6f6"/>
<rect x="350.50" y="284.40" width="11.65" height="11.60" fill="#eef8f8"/>
</g>
<rect x="240.30" y="174.70" width="121.55" height="121.00" fill="none" stroke="#9a9a9a" stroke-width="0.7"/>
<path d="M245.83,174.70v1.3M245.83,295.70v-1.3M256.88,174.70v1.3M256.88,295.70v-1.3M267.93,174.70v1.3M267.93,295.70v-1.3M278.98,174.70v1.3M278.98,295.70v-1.3M290.03,174.70v1.3M290.03,295.70v-1.3M301.08,174.70v1.3M301.08,295.70v-1.3M312.12,174.70v1.3M312.12,295.70v-1.3M323.18,174.70v1.3M323.18,295.70v-1.3M334.23,174.70v1.3M334.23,295.70v-1.3M345.28,174.70v1.3M345.28,295.70v-1.3M356.33,174.70v1.3M356.33,295.70v-1.3M240.30,180.20h1.3M240.30,191.20h1.3M240.30,202.20h1.3M240.30,213.20h1.3M240.30,224.20h1.3M240.30,235.20h1.3M240.30,246.20h1.3M240.30,257.20h1.3M240.30,268.20h1.3M240.30,279.20h1.3M240.30,290.20h1.3" stroke="#9a9a9a" stroke-width="0.6" fill="none"/>
<path d="M245.83,180.20 L256.88,180.20 L267.93,191.20 L278.98,202.20 L290.03,213.20 L301.08,224.20 L312.12,235.20 L323.18,246.20 L323.18,257.20 L334.23,268.20 L345.28,279.20 L356.33,290.20" fill="none" stroke="#1494a3" stroke-width="6.2" stroke-linejoin="miter" stroke-linecap="butt"/>
<g font-family="Liberation Sans, sans-serif" font-weight="bold" font-size="5.7" fill="#111" stroke="#111" stroke-width="0.24" text-anchor="middle">
<text x="245.83" y="183.35" textLength="7.40" lengthAdjust="spacingAndGlyphs">0.0</text>
<text x="256.88" y="183.35" textLength="7.40" lengthAdjust="spacingAndGlyphs">0.0</text>
<text x="267.93" y="183.35" textLength="7.40" lengthAdjust="spacingAndGlyphs">1.0</text>
<text x="278.98" y="183.35" textLength="7.40" lengthAdjust="spacingAndGlyphs">4.0</text>
<text x="290.03" y="183.35" textLength="7.40" lengthAdjust="spacingAndGlyphs">5.0</text>
<text x="301.08" y="183.35" textLength="7.40" lengthAdjust="spacingAndGlyphs">6.0</text>
<text x="312.12" y="183.35" textLength="7.40" lengthAdjust="spacingAndGlyphs">9.0</text>
<text x="323.18" y="183.35" textLength="9.60" lengthAdjust="spacingAndGlyphs">17.0</text>
<text x="334.23" y="183.35" textLength="9.60" lengthAdjust="spacingAndGlyphs">24.0</text>
<text x="345.28" y="183.35" textLength="9.60" lengthAdjust="spacingAndGlyphs">26.0</text>
<text x="356.33" y="183.35" textLength="9.60" lengthAdjust="spacingAndGlyphs">27.0</text>
<text x="245.83" y="194.35" textLength="7.40" lengthAdjust="spacingAndGlyphs">1.0</text>
<text x="256.88" y="194.35" textLength="7.40" lengthAdjust="spacingAndGlyphs">1.0</text>
<text x="267.93" y="194.35" textLength="7.40" lengthAdjust="spacingAndGlyphs">0.0</text>
<text x="278.98" y="194.35" textLength="7.40" lengthAdjust="spacingAndGlyphs">2.0</text>
<text x="290.03" y="194.35" textLength="7.40" lengthAdjust="spacingAndGlyphs">2.0</text>
<text x="301.08" y="194.35" textLength="7.40" lengthAdjust="spacingAndGlyphs">2.0</text>
<text x="312.12" y="194.35" textLength="7.40" lengthAdjust="spacingAndGlyphs">4.0</text>
<text x="323.18" y="194.35" textLength="9.60" lengthAdjust="spacingAndGlyphs">11.0</text>
<text x="334.23" y="194.35" textLength="9.60" lengthAdjust="spacingAndGlyphs">17.0</text>
<text x="345.28" y="194.35" textLength="9.60" lengthAdjust="spacingAndGlyphs">18.0</text>
<text x="356.33" y="194.35" textLength="9.60" lengthAdjust="spacingAndGlyphs">18.0</text>
<text x="245.83" y="205.35" textLength="7.40" lengthAdjust="spacingAndGlyphs">4.0</text>
<text x="256.88" y="205.35" textLength="7.40" lengthAdjust="spacingAndGlyphs">4.0</text>
<text x="267.93" y="205.35" textLength="7.40" lengthAdjust="spacingAndGlyphs">2.0</text>
<text x="278.98" y="205.35" textLength="7.40" lengthAdjust="spacingAndGlyphs">0.0</text>
<text x="290.03" y="205.35" textLength="7.40" lengthAdjust="spacingAndGlyphs">2.0</text>
<text x="301.08" y="205.35" textLength="7.40" lengthAdjust="spacingAndGlyphs">4.0</text>
<text x="312.12" y="205.35" textLength="7.40" lengthAdjust="spacingAndGlyphs">2.0</text>
<text x="323.18" y="205.35" textLength="7.40" lengthAdjust="spacingAndGlyphs">7.0</text>
<text x="334.23" y="205.35" textLength="9.60" lengthAdjust="spacingAndGlyphs">11.0</text>
<text x="345.28" y="205.35" textLength="9.60" lengthAdjust="spacingAndGlyphs">12.0</text>
<text x="356.33" y="205.35" textLength="9.60" lengthAdjust="spacingAndGlyphs">14.0</text>
<text x="245.83" y="216.35" textLength="7.40" lengthAdjust="spacingAndGlyphs">4.0</text>
<text x="256.88" y="216.35" textLength="7.40" lengthAdjust="spacingAndGlyphs">4.0</text>
<text x="267.93" y="216.35" textLength="7.40" lengthAdjust="spacingAndGlyphs">3.0</text>
<text x="278.98" y="216.35" textLength="7.40" lengthAdjust="spacingAndGlyphs">3.0</text>
<text x="290.03" y="216.35" textLength="7.40" lengthAdjust="spacingAndGlyphs">1.0</text>
<text x="301.08" y="216.35" textLength="7.40" lengthAdjust="spacingAndGlyphs">2.0</text>
<text x="312.12" y="216.35" textLength="7.40" lengthAdjust="spacingAndGlyphs">5.0</text>
<text x="323.18" y="216.35" textLength="9.60" lengthAdjust="spacingAndGlyphs">10.0</text>
<text x="334.23" y="216.35" textLength="9.60" lengthAdjust="spacingAndGlyphs">14.0</text>
<text x="345.28" y="216.35" textLength="9.60" lengthAdjust="spacingAndGlyphs">13.0</text>
<text x="356.33" y="216.35" textLength="9.60" lengthAdjust="spacingAndGlyphs">13.0</text>
<text x="245.83" y="227.35" textLength="7.40" lengthAdjust="spacingAndGlyphs">5.0</text>
<text x="256.88" y="227.35" textLength="7.40" lengthAdjust="spacingAndGlyphs">5.0</text>
<text x="267.93" y="227.35" textLength="7.40" lengthAdjust="spacingAndGlyphs">3.0</text>
<text x="278.98" y="227.35" textLength="7.40" lengthAdjust="spacingAndGlyphs">5.0</text>
<text x="290.03" y="227.35" textLength="7.40" lengthAdjust="spacingAndGlyphs">1.0</text>
<text x="301.08" y="227.35" textLength="7.40" lengthAdjust="spacingAndGlyphs">1.0</text>
<text x="312.12" y="227.35" textLength="7.40" lengthAdjust="spacingAndGlyphs">3.0</text>
<text x="323.18" y="227.35" textLength="9.60" lengthAdjust="spacingAndGlyphs">10.0</text>
<text x="334.23" y="227.35" textLength="9.60" lengthAdjust="spacingAndGlyphs">16.0</text>
<text x="345.28" y="227.35" textLength="9.60" lengthAdjust="spacingAndGlyphs">14.0</text>
<text x="356.33" y="227.35" textLength="9.60" lengthAdjust="spacingAndGlyphs">13.0</text>
<text x="245.83" y="238.35" textLength="9.60" lengthAdjust="spacingAndGlyphs">10.0</text>
<text x="256.88" y="238.35" textLength="9.60" lengthAdjust="spacingAndGlyphs">10.0</text>
<text x="267.93" y="238.35" textLength="7.40" lengthAdjust="spacingAndGlyphs">7.0</text>
<text x="278.98" y="238.35" textLength="7.40" lengthAdjust="spacingAndGlyphs">5.0</text>
<text x="290.03" y="238.35" textLength="7.40" lengthAdjust="spacingAndGlyphs">5.0</text>
<text x="301.08" y="238.35" textLength="7.40" lengthAdjust="spacingAndGlyphs">5.0</text>
<text x="312.12" y="238.35" textLength="7.40" lengthAdjust="spacingAndGlyphs">3.0</text>
<text x="323.18" y="238.35" textLength="7.40" lengthAdjust="spacingAndGlyphs">6.0</text>
<text x="334.23" y="238.35" textLength="7.40" lengthAdjust="spacingAndGlyphs">8.0</text>
<text x="345.28" y="238.35" textLength="9.60" lengthAdjust="spacingAndGlyphs">11.0</text>
<text x="356.33" y="238.35" textLength="9.60" lengthAdjust="spacingAndGlyphs">15.0</text>
<text x="245.83" y="249.35" textLength="9.60" lengthAdjust="spacingAndGlyphs">18.0</text>
<text x="256.88" y="249.35" textLength="9.60" lengthAdjust="spacingAndGlyphs">18.0</text>
<text x="267.93" y="249.35" textLength="9.60" lengthAdjust="spacingAndGlyphs">14.0</text>
<text x="278.98" y="249.35" textLength="9.60" lengthAdjust="spacingAndGlyphs">10.0</text>
<text x="290.03" y="249.35" textLength="9.60" lengthAdjust="spacingAndGlyphs">12.0</text>
<text x="301.08" y="249.35" textLength="9.60" lengthAdjust="spacingAndGlyphs">12.0</text>
<text x="312.12" y="249.35" textLength="7.40" lengthAdjust="spacingAndGlyphs">8.0</text>
<text x="323.18" y="249.35" textLength="7.40" lengthAdjust="spacingAndGlyphs">3.0</text>
<text x="334.23" y="249.35" textLength="7.40" lengthAdjust="spacingAndGlyphs">4.0</text>
<text x="345.28" y="249.35" textLength="9.60" lengthAdjust="spacingAndGlyphs">10.0</text>
<text x="356.33" y="249.35" textLength="9.60" lengthAdjust="spacingAndGlyphs">17.0</text>
<text x="245.83" y="260.35" textLength="9.60" lengthAdjust="spacingAndGlyphs">26.0</text>
<text x="256.88" y="260.35" textLength="9.60" lengthAdjust="spacingAndGlyphs">26.0</text>
<text x="267.93" y="260.35" textLength="9.60" lengthAdjust="spacingAndGlyphs">21.0</text>
<text x="278.98" y="260.35" textLength="9.60" lengthAdjust="spacingAndGlyphs">15.0</text>
<text x="290.03" y="260.35" textLength="9.60" lengthAdjust="spacingAndGlyphs">17.0</text>
<text x="301.08" y="260.35" textLength="9.60" lengthAdjust="spacingAndGlyphs">19.0</text>
<text x="312.12" y="260.35" textLength="9.60" lengthAdjust="spacingAndGlyphs">13.0</text>
<text x="323.18" y="260.35" textLength="7.40" lengthAdjust="spacingAndGlyphs">3.0</text>
<text x="334.23" y="260.35" textLength="7.40" lengthAdjust="spacingAndGlyphs">4.0</text>
<text x="345.28" y="260.35" textLength="9.60" lengthAdjust="spacingAndGlyphs">10.0</text>
<text x="356.33" y="260.35" textLength="9.60" lengthAdjust="spacingAndGlyphs">17.0</text>
<text x="245.83" y="271.35" textLength="9.60" lengthAdjust="spacingAndGlyphs">31.0</text>
<text x="256.88" y="271.35" textLength="9.60" lengthAdjust="spacingAndGlyphs">31.0</text>
<text x="267.93" y="271.35" textLength="9.60" lengthAdjust="spacingAndGlyphs">25.0</text>
<text x="278.98" y="271.35" textLength="9.60" lengthAdjust="spacingAndGlyphs">17.0</text>
<text x="290.03" y="271.35" textLength="9.60" lengthAdjust="spacingAndGlyphs">19.0</text>
<text x="301.08" y="271.35" textLength="9.60" lengthAdjust="spacingAndGlyphs">21.0</text>
<text x="312.12" y="271.35" textLength="9.60" lengthAdjust="spacingAndGlyphs">15.0</text>
<text x="323.18" y="271.35" textLength="7.40" lengthAdjust="spacingAndGlyphs">6.0</text>
<text x="334.23" y="271.35" textLength="7.40" lengthAdjust="spacingAndGlyphs">5.0</text>
<text x="345.28" y="271.35" textLength="7.40" lengthAdjust="spacingAndGlyphs">7.0</text>
<text x="356.33" y="271.35" textLength="9.60" lengthAdjust="spacingAndGlyphs">11.0</text>
<text x="245.83" y="282.35" textLength="9.60" lengthAdjust="spacingAndGlyphs">33.0</text>
<text x="256.88" y="282.35" textLength="9.60" lengthAdjust="spacingAndGlyphs">33.0</text>
<text x="267.93" y="282.35" textLength="9.60" lengthAdjust="spacingAndGlyphs">26.0</text>
<text x="278.98" y="282.35" textLength="9.60" lengthAdjust="spacingAndGlyphs">18.0</text>
<text x="290.03" y="282.35" textLength="9.60" lengthAdjust="spacingAndGlyphs">18.0</text>
<text x="301.08" y="282.35" textLength="9.60" lengthAdjust="spacingAndGlyphs">19.0</text>
<text x="312.12" y="282.35" textLength="9.60" lengthAdjust="spacingAndGlyphs">16.0</text>
<text x="323.18" y="282.35" textLength="9.60" lengthAdjust="spacingAndGlyphs">12.0</text>
<text x="334.23" y="282.35" textLength="9.60" lengthAdjust="spacingAndGlyphs">10.0</text>
<text x="345.28" y="282.35" textLength="7.40" lengthAdjust="spacingAndGlyphs">5.0</text>
<text x="356.33" y="282.35" textLength="7.40" lengthAdjust="spacingAndGlyphs">6.0</text>
<text x="245.83" y="293.35" textLength="9.60" lengthAdjust="spacingAndGlyphs">34.0</text>
<text x="256.88" y="293.35" textLength="9.60" lengthAdjust="spacingAndGlyphs">34.0</text>
<text x="267.93" y="293.35" textLength="9.60" lengthAdjust="spacingAndGlyphs">26.0</text>
<text x="278.98" y="293.35" textLength="9.60" lengthAdjust="spacingAndGlyphs">20.0</text>
<text x="290.03" y="293.35" textLength="9.60" lengthAdjust="spacingAndGlyphs">18.0</text>
<text x="301.08" y="293.35" textLength="9.60" lengthAdjust="spacingAndGlyphs">18.0</text>
<text x="312.12" y="293.35" textLength="9.60" lengthAdjust="spacingAndGlyphs">18.0</text>
<text x="323.18" y="293.35" textLength="9.60" lengthAdjust="spacingAndGlyphs">19.0</text>
<text x="334.23" y="293.35" textLength="9.60" lengthAdjust="spacingAndGlyphs">16.0</text>
<text x="345.28" y="293.35" textLength="7.40" lengthAdjust="spacingAndGlyphs">6.0</text>
<text x="356.33" y="293.35" textLength="7.40" lengthAdjust="spacingAndGlyphs">5.0</text>
</g>
<g font-family="Liberation Sans, sans-serif" font-size="5.8" fill="#505050" text-anchor="middle">
<text x="236.00" y="183.39">1</text>
<text x="236.00" y="194.39">2</text>
<text x="236.00" y="205.39">4</text>
<text x="236.00" y="216.39">1</text>
<text x="236.00" y="227.39">2</text>
<text x="236.00" y="238.39">6</text>
<text x="236.00" y="249.39">9</text>
<text x="236.00" y="260.39">9</text>
<text x="236.00" y="271.39">6</text>
<text x="236.00" y="282.39">3</text>
<text x="236.00" y="293.39">2</text>
<text x="245.83" y="304.09">1</text>
<text x="256.88" y="304.09">1</text>
<text x="267.93" y="304.09">2</text>
<text x="278.98" y="304.09">4</text>
<text x="290.03" y="304.09">2</text>
<text x="301.08" y="304.09">2</text>
<text x="312.12" y="304.09">4</text>
<text x="323.18" y="304.09">9</text>
<text x="334.23" y="304.09">8</text>
<text x="345.28" y="304.09">3</text>
<text x="356.33" y="304.09">2</text>
<text x="301.08" y="311.09" font-size="5.8">B</text>
<text x="230.10" y="235.20" transform="rotate(-90 230.10 235.20)" dy="2.09" font-size="6.38">A</text>
</g>
</svg>
</body></html>
